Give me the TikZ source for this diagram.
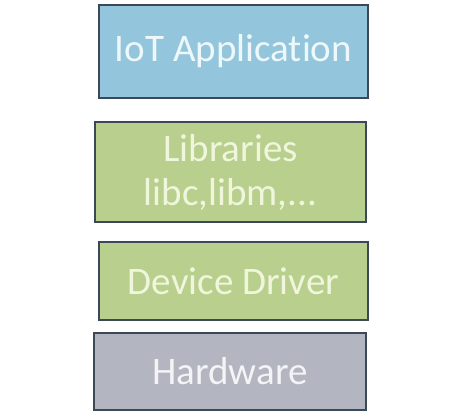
\documentclass[tikz,border=0pt]{standalone}
\usepackage{fontspec}
\setmainfont[Ligatures=NoCommon]{Carlito}
\definecolor{bluefill}{HTML}{93C6DC}
\definecolor{greenfill}{HTML}{B9CF8D}
\definecolor{grayfill}{HTML}{B3B5C0}
\definecolor{edge}{HTML}{3A4858}
\definecolor{bluetext}{HTML}{EEF8FA}
\definecolor{greentext}{HTML}{F0F6DC}
\definecolor{graytext}{HTML}{F4F4F6}
\begin{document}
\begin{tikzpicture}[x=1pt,y=-1pt,
  layer/.style={draw=edge, line width=2pt, rectangle, inner sep=0pt, align=center,
    font=\fontsize{39}{44}\selectfont}]
\useasboundingbox (0,0) rectangle (474,420);
\node[layer, fill=bluefill, text=bluetext, minimum width=269pt, minimum height=93pt] (app) at (233.5,51.5) {IoT Application};
\node[layer, fill=greenfill, text=greentext, minimum width=271pt, minimum height=100pt] (lib) at (230.5,172) {Libraries\\libc,libm,...};
\node[layer, fill=greenfill, text=greentext, minimum width=269pt, minimum height=78pt] (drv) at (233.5,281) {Device Driver};
\node[layer, fill=grayfill, text=graytext, minimum width=272pt, minimum height=77pt] (hw) at (230,371.5) {Hardware};
\end{tikzpicture}
\end{document}
